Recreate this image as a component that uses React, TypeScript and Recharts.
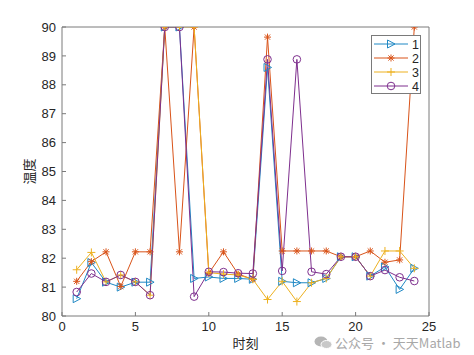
import React from "react";
import { LineChart, Line, XAxis, YAxis, Label } from "recharts";

// time steps and the four temperature series
const TIMES = [1, 2, 3, 4, 5, 6, 7, 8, 9, 10, 11, 12, 13, 14, 15, 16, 17, 18, 19, 20, 21, 22, 23, 24];
const SERIES_1 = [80.6, 81.85, 81.17, 81.0, 81.17, 81.17, 90, 90, 81.3, 81.35, 81.3, 81.3, 81.27, 88.6, 81.2, 81.15, 81.15, 81.3, 82.05, 82.05, 81.38, 81.7, 80.92, 81.65];
const SERIES_2 = [81.2, 81.88, 82.22, 81.02, 82.22, 82.22, 90, 82.22, 90, 81.48, 82.22, 81.45, 81.27, 89.65, 82.25, 82.25, 82.25, 82.25, 82.05, 82.05, 82.25, 81.86, 81.94, 90];
const SERIES_3 = [81.6, 82.2, 81.18, 81.42, 81.18, 80.72, 90, 90, 90, 81.5, 81.45, 81.42, 81.27, 80.57, 81.2, 80.5, 81.15, 81.3, 82.05, 82.05, 81.38, 82.25, 82.25, 81.65];
const SERIES_4 = [80.83, 81.47, 81.18, 81.42, 81.18, 80.72, 90, 90, 80.67, 81.53, 81.52, 81.48, 81.47, 88.88, 81.56, 88.88, 81.53, 81.45, 82.05, 82.05, 81.38, 81.59, 81.34, 81.21];
const SERIES_NAMES = ["1", "2", "3", "4"];

const X_TICKS = [0, 5, 10, 15, 20, 25];
const Y_TICKS = [80, 81, 82, 83, 84, 85, 86, 87, 88, 89, 90];

const COLORS = ["#1f88c4", "#d95319", "#edb120", "#7e2f8e"];
const SHAPES = ["tri", "star", "plus", "circle"];
const AXIS_COLOR = "#7a7a7a";
const TEXT_COLOR = "#262626";

const data = TIMES.map((x, i) => ({
  x,
  s1: SERIES_1[i],
  s2: SERIES_2[i],
  s3: SERIES_3[i],
  s4: SERIES_4[i],
}));

function Marker({ shape, cx, cy, color }: { shape: string; cx: number; cy: number; color: string }) {
  if (cx == null || cy == null) return null;
  if (shape === "tri") {
    return (
      <polygon
        points={`${cx - 3.5},${cy - 4} ${cx - 3.5},${cy + 4} ${cx + 4},${cy}`}
        fill="none"
        stroke={color}
        strokeWidth={1}
      />
    );
  }
  if (shape === "star") {
    const r = 3.5;
    const d = 2.6;
    return (
      <g stroke={color} strokeWidth={1}>
        <line x1={cx - r} y1={cy} x2={cx + r} y2={cy} />
        <line x1={cx} y1={cy - r} x2={cx} y2={cy + r} />
        <line x1={cx - d} y1={cy - d} x2={cx + d} y2={cy + d} />
        <line x1={cx - d} y1={cy + d} x2={cx + d} y2={cy - d} />
      </g>
    );
  }
  if (shape === "plus") {
    const r = 4;
    return (
      <g stroke={color} strokeWidth={1}>
        <line x1={cx - r} y1={cy} x2={cx + r} y2={cy} />
        <line x1={cx} y1={cy - r} x2={cx} y2={cy + r} />
      </g>
    );
  }
  return <circle cx={cx} cy={cy} r={3.8} fill="none" stroke={color} strokeWidth={1} />;
}

function LegendBox() {
  return (
    <svg width={50} height={59} style={{ display: "block" }}>
      <rect x={0.5} y={0.5} width={49} height={58} fill="#fff" stroke={AXIS_COLOR} strokeWidth={1} />
      {SERIES_NAMES.map((name, i) => {
        const y = 9 + i * 14;
        return (
          <g key={name}>
            <line x1={3} y1={y} x2={37} y2={y} stroke={COLORS[i]} strokeWidth={1} />
            <Marker shape={SHAPES[i]} cx={20} cy={y} color={COLORS[i]} />
            <text x={41} y={y + 4.5} fontSize={12.5} fill={TEXT_COLOR} fontFamily="'Liberation Sans', Arial, sans-serif">
              {name}
            </text>
          </g>
        );
      })}
    </svg>
  );
}

export default function App() {
  const keys = ["s1", "s2", "s3", "s4"];
  return (
    <div style={{ position: "absolute", left: 0, top: 0, width: 474, height: 355, background: "#fff" }}>
      <LineChart
        width={474}
        height={355}
        data={data}
        margin={{ top: 26, right: 44, bottom: 0, left: 22 }}
        style={{ fontFamily: "'Liberation Sans', Arial, sans-serif" }}
      >
        <XAxis
          xAxisId="bottom"
          dataKey="x"
          type="number"
          domain={[0, 25]}
          ticks={X_TICKS}
          height={39}
          tickSize={4}
          tickMargin={2}
          stroke={AXIS_COLOR}
          tickLine={{ stroke: AXIS_COLOR, transform: "translate(0,-4)" }}
          tick={{ fill: TEXT_COLOR, fontSize: 13 }}
          allowDataOverflow
        >
          <Label
            content={({ viewBox }: any) => (
              <text
                x={viewBox.x + viewBox.width / 2}
                y={viewBox.y + 32}
                textAnchor="middle"
                fontSize={13}
                fill={TEXT_COLOR}
                fontFamily="'Noto Sans CJK SC', sans-serif"
              >
                时刻
              </text>
            )}
          />
        </XAxis>
        <XAxis
          xAxisId="top"
          orientation="top"
          dataKey="x"
          type="number"
          domain={[0, 25]}
          ticks={X_TICKS}
          height={1}
          tickSize={4}
          stroke={AXIS_COLOR}
          tickLine={{ stroke: AXIS_COLOR, transform: "translate(0,4)" }}
          tick={false}
          allowDataOverflow
        />
        <YAxis
          yAxisId="left"
          type="number"
          domain={[80, 90]}
          ticks={Y_TICKS}
          width={40}
          tickSize={4}
          tickMargin={2}
          stroke={AXIS_COLOR}
          tickLine={{ stroke: AXIS_COLOR, transform: "translate(4,0)" }}
          tick={{ fill: TEXT_COLOR, fontSize: 13 }}
          allowDataOverflow
        >
          <Label
            content={({ viewBox }: any) => {
              const cx = viewBox.x + 6;
              const cy = viewBox.y + viewBox.height / 2;
              return (
                <text
                  x={cx}
                  y={cy}
                  textAnchor="middle"
                  dominantBaseline="central"
                  transform={`rotate(-90, ${cx}, ${cy})`}
                  fontSize={13}
                  fill={TEXT_COLOR}
                  fontFamily="'Noto Sans CJK SC', sans-serif"
                >
                  温度
                </text>
              );
            }}
          />
        </YAxis>
        <YAxis
          yAxisId="right"
          orientation="right"
          type="number"
          domain={[80, 90]}
          ticks={Y_TICKS}
          width={1}
          tickSize={4}
          stroke={AXIS_COLOR}
          tickLine={{ stroke: AXIS_COLOR, transform: "translate(-4,0)" }}
          tick={false}
          allowDataOverflow
        />
        {keys.map((k, i) => (
          <Line
            key={k}
            xAxisId="bottom"
            yAxisId="left"
            type="linear"
            dataKey={k}
            name={SERIES_NAMES[i]}
            stroke={COLORS[i]}
            strokeWidth={1}
            isAnimationActive={false}
            activeDot={false}
            dot={(p: any) => (
              <Marker key={`${k}-${p.index}`} shape={SHAPES[i]} cx={p.cx} cy={p.cy} color={COLORS[i]} />
            )}
          />
        ))}
      </LineChart>
      <div style={{ position: "absolute", left: 371, top: 35 }}>
        <LegendBox />
      </div>
      <div
        style={{
          position: "absolute",
          left: 314,
          top: 336,
          height: 13,
          display: "flex",
          alignItems: "center",
          color: "#a8a8a8",
          fontSize: 13,
          lineHeight: "13px",
          fontFamily: "'Noto Sans CJK SC', sans-serif",
          whiteSpace: "nowrap",
        }}
      >
        <svg width={19} height={13} style={{ marginRight: 2 }}>
          <ellipse cx={7} cy={5.5} rx={6.5} ry={5} fill="#b5b5b5" />
          <ellipse cx={12.5} cy={8.5} rx={5.5} ry={4} fill="#c8c8c8" stroke="#fff" strokeWidth={1} />
        </svg>
        <span>公众号 · 天天Matlab</span>
      </div>
    </div>
  );
}
